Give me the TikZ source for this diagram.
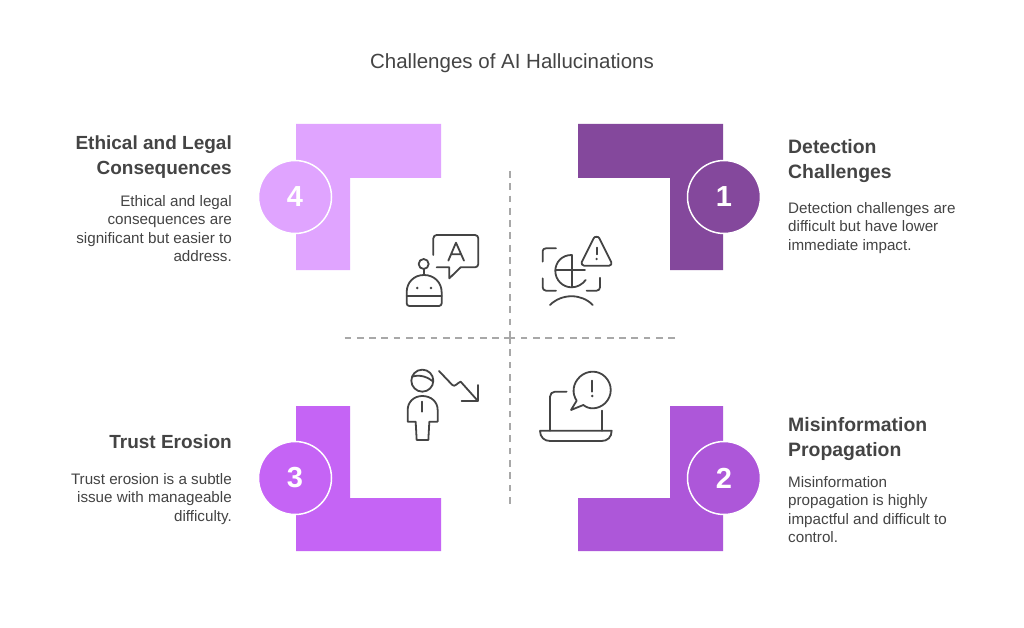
\documentclass[tikz,border=0pt]{standalone}
\usepackage{fontspec}
\setmainfont{Liberation Sans}
\definecolor{cone}{HTML}{84489C}
\definecolor{ctwo}{HTML}{AD57D9}
\definecolor{cthree}{HTML}{C564F5}
\definecolor{cfour}{HTML}{E0A4FF}
\definecolor{ink}{HTML}{444444}
\definecolor{icon}{HTML}{444444}
\definecolor{guide}{HTML}{A8A8A8}
\tikzset{
  badge/.style={circle,draw=white,line width=1.5pt,minimum size=73pt,inner sep=0pt,text=white,font=\fontsize{29}{29}\selectfont\bfseries},
  headr/.style={anchor=north east,align=right,inner sep=0pt,text=ink,font=\fontsize{19}{25}\selectfont\bfseries},
  headl/.style={anchor=north west,align=left,inner sep=0pt,text=ink,font=\fontsize{19.4}{25}\selectfont\bfseries},
  bodyr/.style={anchor=north east,align=right,inner sep=0pt,text=ink,font=\fontsize{15.2}{18.4}\selectfont},
  bodyl/.style={anchor=north west,align=left,inner sep=0pt,text=ink,font=\fontsize{15.2}{18.4}\selectfont},
  guideline/.style={draw=guide,line width=2.4pt,dash pattern=on 6.7pt off 5.6pt},
  ic/.style={draw=icon,line width=1.8pt,line cap=round,line join=round,fill=none},
}
\begin{document}
\begin{tikzpicture}[x=1pt,y=-1pt]
\useasboundingbox[fill=white] (0,0) rectangle (1024,628);
\node[text=ink,font=\fontsize{20.5}{24}\selectfont] (title) at (512,63) {Challenges of AI Hallucinations};
% guides
\coordinate (gc) at (510,338);
\coordinate (gl) at (344.5,338); \coordinate (gr) at (675,338);
\coordinate (gt) at (510,171); \coordinate (gb) at (510,503.5);
\draw[guideline] (gl) -- (gc);
\draw[guideline] (gr) -- (gc);
\draw[guideline] (gt) -- (gc);
\draw[guideline] (gb) -- (gc);
% elbows
\fill[cfour] (296,124)--(441,124)--(441,178)--(350,178)--(350,270)--(296,270)--cycle;
\fill[cone] (578,124)--(723,124)--(723,270)--(670,270)--(670,178)--(578,178)--cycle;
\fill[cthree] (296,406)--(350,406)--(350,498)--(441,498)--(441,551)--(296,551)--cycle;
\fill[ctwo] (670,406)--(723,406)--(723,551)--(578,551)--(578,498)--(670,498)--cycle;
% badges
\node[badge,fill=cfour] (n4) at (295,197) {4};
\node[badge,fill=cone] (n1) at (724,197) {1};
\node[badge,fill=cthree] (n3) at (295,478) {3};
\node[badge,fill=ctwo] (n2) at (724,478) {2};
% text
\node[headr] (h4) at (232,136) {Ethical and Legal\\Consequences};
\node[bodyr] (b4) at (232,195) {Ethical and legal\\consequences are\\significant but easier to\\address.};
\node[headl] (h1) at (788,139) {Detection\\Challenges};
\node[bodyl] (b1) at (788,202) {Detection challenges are\\difficult but have lower\\immediate impact.};
\node[headl] (h2) at (788,417) {Misinformation\\Propagation};
\node[bodyl] (b2) at (788,476) {Misinformation\\propagation is highly\\impactful and difficult to\\control.};
\node[headr] (h3) at (232,435) {Trust Erosion};
\node[bodyr] (b3) at (232,473) {Trust erosion is a subtle\\issue with manageable\\difficulty.};
% robot icon
\begin{scope}[shift={(390,220)},x=0.3333pt,y=-0.3333pt]
\draw[ic] (130,105)--(130,55) to[out=90,in=180] (140,45)--(255,45) to[out=0,in=90] (265,55)--(265,132) to[out=-90,in=0] (255,142)--(212,142)--(178,175)--(178,142)--(140,142);
\draw[ic] (175,122)--(198,68)--(222,122) (183,103)--(213,103);
\draw[ic] (101,132) circle[radius=5pt];
\draw[ic] (101,147)--(101,165);
\draw[ic] (50,250)--(50,217) .. controls (50,187) and (72,165) .. (102,165) .. controls (132,165) and (155,187) .. (155,217)--(155,250) to[out=-90,in=0] (147,258)--(58,258) to[out=180,in=-90] (50,250);
\draw[ic] (50,228)--(155,228);
\fill[icon] (82,204) circle[radius=1.4pt] (123,204) circle[radius=1.4pt];
\end{scope}
% globe icon
\begin{scope}[shift={(530,225)},x=0.3333pt,y=-0.3333pt]
\draw[ic] (38,110)--(38,78) to[out=90,in=180] (48,70)--(78,70);
\draw[ic] (38,160)--(38,187) to[out=-90,in=180] (48,197)--(78,197);
\draw[ic] (210,158)--(210,187) to[out=-90,in=0] (200,197)--(170,197);
\draw[ic] (125,90) .. controls (95,90) and (76,112) .. (76,138) .. controls (76,165) and (98,187) .. (125,187) .. controls (142,187) and (157,178) .. (167,165);
\draw[ic] (76,135)--(165,135) (125,90)--(125,187);
\draw[ic] (60,240) .. controls (95,205) and (155,205) .. (188,240);
\draw[ic] (191,40) -- (155,112) to[out=-110,in=180] (162,122) -- (238,122) to[out=0,in=-70] (244,112) -- (208,40) to[out=110,in=70] (191,40);
\draw[ic] (200,68)--(200,88);
\fill[icon] (200,102) circle[radius=1.3pt];
\end{scope}
% person icon
\begin{scope}[shift={(395,360)},x=0.3333pt,y=-0.3333pt]
\draw[ic] (82,62) circle[radius=11pt];
\draw[ic] (52,50) .. controls (75,42) and (100,52) .. (115,65);
\draw[ic] (38,185)--(38,150) .. controls (38,125) and (58,108) .. (82,108) .. controls (108,108) and (128,125) .. (128,150)--(128,185)--(103,185)--(100,240)--(65,240)--(62,185)--cycle;
\draw[ic] (82,125)--(82,155);
\draw[ic] (132,33)--(172,75) to[out=-45,in=-160] (197,65)--(248,122);
\draw[ic] (248,75)--(248,122)--(200,122);
\end{scope}
% laptop icon
\begin{scope}[shift={(530,360)},x=0.3333pt,y=-0.3333pt]
\draw[ic] (123,150) -- (140,122) .. controls (125,100) and (128,70) .. (150,50) .. controls (172,30) and (205,30) .. (225,50) .. controls (248,72) and (248,108) .. (225,130) .. controls (205,148) and (178,150) .. (160,135) -- cycle;
\draw[ic] (110,95)--(75,95) to[out=180,in=90] (60,110)--(60,212);
\draw[ic] (215,152)--(215,212);
\draw[ic] (30,212)--(245,212) .. controls (245,232) and (232,243) .. (215,243)--(60,243) .. controls (43,243) and (30,232) .. (30,212);
\draw[ic] (187,62)--(187,95);
\fill[icon] (187,108) circle[radius=1.4pt];
\end{scope}
\end{tikzpicture}
\end{document}
